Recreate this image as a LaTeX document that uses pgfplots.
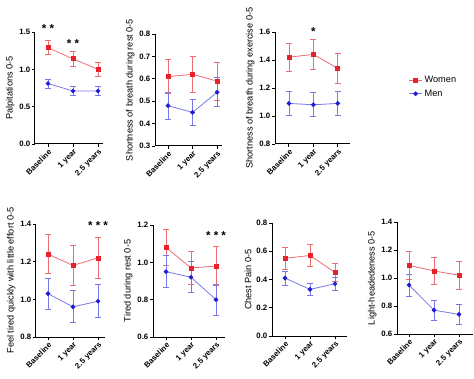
\documentclass[border=0pt]{standalone}
\usepackage{pgfplots}
\usepackage{pgfplotstable}
\pgfplotsset{compat=1.18}
\usepackage{fontspec}
\setmainfont{Liberation Sans}
\definecolor{wred}{RGB}{230,35,45}
\definecolor{wredl}{RGB}{236,110,115}
\definecolor{mblue}{RGB}{30,30,215}
\definecolor{mbluel}{RGB}{120,120,232}

\pgfplotsset{
 pan/.style={
  scale only axis,
  axis lines=left,
  axis line style={-, line width=1pt, black},
  tick style={line width=0.9pt, black},
  tick align=outside,
  major tick length=3pt,
  xtick={0,1,2},
  xticklabels={Baseline,1 year,2.5 years},
  x tick label style={rotate=45, anchor=north east, font=\bfseries\fontsize{7.8}{8}\selectfont, inner sep=1pt},
  y tick label style={font=\bfseries\fontsize{7.8}{8}\selectfont, inner sep=1.5pt},
  yticklabel style={/pgf/number format/fixed, /pgf/number format/fixed zerofill, /pgf/number format/precision=1, /pgf/number format/assume math mode=true},
  ylabel style={font=\fontsize{9.2}{10}\selectfont},
  clip=false,
 },
 women/.style={color=wredl, line width=0.8pt, mark=square*, mark size=2pt,
   mark options={fill=wred, draw=wred, solid},
   error bars/.cd, y dir=both, y explicit,
   error bar style={color=wredl, line width=0.8pt},
   error mark options={rotate=90, mark size=3pt, color=wredl, line width=0.8pt}},
 men/.style={color=mbluel, line width=0.8pt, mark=*, mark size=1.9pt,
   mark options={fill=mblue, draw=mblue, solid},
   error bars/.cd, y dir=both, y explicit,
   error bar style={color=mbluel, line width=0.8pt},
   error mark options={rotate=90, mark size=3pt, color=mbluel, line width=0.8pt}},
}
\newcommand{\stars}[1]{\bfseries\fontsize{11.5}{11.5}\selectfont #1}

\pgfplotstableread{
x w we m me
0 1.29 0.095 0.81 0.06
1 1.14 0.10 0.71 0.06
2 1.00 0.095 0.71 0.06
}\tA
\pgfplotstableread{
x w we m me
0 0.61 0.075 0.48 0.06
1 0.62 0.08 0.45 0.06
2 0.59 0.085 0.54 0.065
}\tB
\pgfplotstableread{
x w we m me
0 1.42 0.10 1.09 0.085
1 1.44 0.107 1.08 0.085
2 1.34 0.11 1.09 0.085
}\tC
\pgfplotstableread{
x w we m me
0 1.24 0.103 1.03 0.082
1 1.18 0.105 0.96 0.085
2 1.22 0.107 0.99 0.087
}\tD
\pgfplotstableread{
x w we m me
0 1.08 0.097 0.95 0.085
1 0.97 0.09 0.92 0.083
2 0.98 0.105 0.80 0.083
}\tE
\pgfplotstableread{
x w we m me
0 0.55 0.075 0.41 0.05
1 0.57 0.08 0.33 0.045
2 0.45 0.065 0.37 0.048
}\tF
\pgfplotstableread{
x w we m me
0 1.09 0.10 0.95 0.078
1 1.05 0.098 0.77 0.072
2 1.02 0.098 0.74 0.074
}\tG

\begin{document}
\begin{tikzpicture}
\useasboundingbox (0,0) rectangle (474pt,378pt);

% Panel 1
\begin{axis}[pan, at={(35pt,234pt)}, anchor=south west, width=68pt, height=112pt,
  xmin=-0.52, xmax=2.2, ymin=0, ymax=1.5, ytick={0,0.5,1,1.5},
  ylabel={Palpitations 0-5}]
\addplot[women] table[x=x, y=w, y error=we]{\tA};
\addplot[men] table[x=x, y=m, y error=me]{\tA};
\node at (axis cs:0,1.55) {\stars{* *}};
\node at (axis cs:1,1.34) {\stars{* *}};
\end{axis}

% Panel 2
\begin{axis}[pan, at={(155pt,232pt)}, anchor=south west, width=67pt, height=112pt,
  xmin=-0.53, xmax=2.2, ymin=0.3, ymax=0.8, ytick={0.3,0.4,0.5,0.6,0.7,0.8},
  ylabel={Shortness of breath during rest 0-5}]
\addplot[women] table[x=x, y=w, y error=we]{\tB};
\addplot[men] table[x=x, y=m, y error=me]{\tB};
\end{axis}

% Panel 3
\begin{axis}[pan, at={(275pt,234pt)}, anchor=south west, width=75pt, height=112pt,
  xmin=-0.57, xmax=2.5, ymin=0.8, ymax=1.6, ytick={0.8,1.0,1.2,1.4,1.6},
  ylabel={Shortness of breath during exercise 0-5},
  legend style={at={(1.74,0.51)}, anchor=west, draw=none, fill=none,
    font=\fontsize{9.2}{10}\selectfont, row sep=2pt},
  legend cell align=left,
  legend image code/.code={\draw[mark repeat=2,mark phase=2] plot coordinates {(0cm,0cm) (0.23cm,0cm) (0.46cm,0cm)};}]
\addplot[women] table[x=x, y=w, y error=we]{\tC};
\addlegendentry{Women}
\addplot[men] table[x=x, y=m, y error=me]{\tC};
\addlegendentry{Men}
\node at (axis cs:1,1.60) {\stars{*}};
\end{axis}

% Panel 4
\begin{axis}[pan, at={(36pt,41pt)}, anchor=south west, width=69pt, height=113pt,
  xmin=-0.48, xmax=2.28, ymin=0.8, ymax=1.4, ytick={0.8,1.0,1.2,1.4},
  ylabel={Feel tired quickly with little effort 0-5}]
\addplot[women] table[x=x, y=w, y error=we]{\tD};
\addplot[men] table[x=x, y=m, y error=me]{\tD};
\node at (axis cs:2,1.39) {\stars{* * *}};
\end{axis}

% Panel 5
\begin{axis}[pan, at={(153pt,41pt)}, anchor=south west, width=72pt, height=112pt,
  xmin=-0.52, xmax=2.36, ymin=0.6, ymax=1.2, ytick={0.6,0.8,1.0,1.2},
  ylabel={Tired during rest 0-5}]
\addplot[women] table[x=x, y=w, y error=we]{\tE};
\addplot[men] table[x=x, y=m, y error=me]{\tE};
\node at (axis cs:2,1.145) {\stars{* * *}};
\end{axis}

% Panel 6
\begin{axis}[pan, at={(272pt,42pt)}, anchor=south west, width=75pt, height=113pt,
  xmin=-0.52, xmax=2.48, ymin=0, ymax=0.8, ytick={0,0.2,0.4,0.6,0.8},
  ylabel={Chest Pain 0-5}]
\addplot[women] table[x=x, y=w, y error=we]{\tF};
\addplot[men] table[x=x, y=m, y error=me]{\tF};
\end{axis}

% Panel 7
\begin{axis}[pan, at={(397pt,44pt)}, anchor=south west, width=76pt, height=112pt,
  xmin=-0.48, xmax=2.56, ymin=0.6, ymax=1.4, ytick={0.6,0.8,1.0,1.2,1.4},
  ylabel={Light-headedeness 0-5}]
\addplot[women] table[x=x, y=w, y error=we]{\tG};
\addplot[men] table[x=x, y=m, y error=me]{\tG};
\end{axis}
\end{tikzpicture}
\end{document}
